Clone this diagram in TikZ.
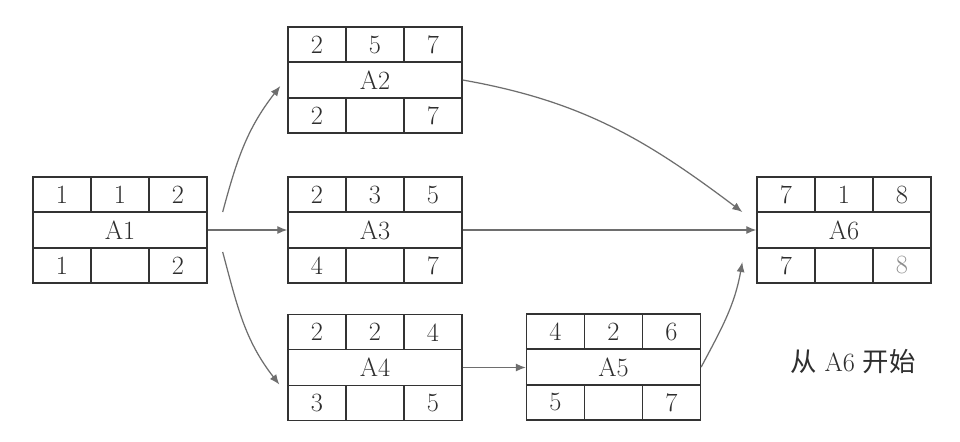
\documentclass[tikz,border=0pt]{standalone}
\usepackage{fontspec}
\newfontfamily\cjk{Noto Sans CJK SC}
\usetikzlibrary{positioning}
\usetikzlibrary{calc}
\usetikzlibrary{arrows.meta}
\definecolor{boxline}{HTML}{333333}
\definecolor{flowgray}{HTML}{6E6E6E}
\definecolor{numtext}{HTML}{2E2E2E}
\definecolor{fainttext}{HTML}{8C8C8C}

% one activity box: name, x, y, ES, D, EF, LS, LF
\newcommand{\task}[8]{%
  \node[taskbox] (#1) at (#2,#3) {#1};
  \draw[cellline] ($(#1.north west)!1/3!(#1.south west)$) -- ($(#1.north east)!1/3!(#1.south east)$);
  \draw[cellline] ($(#1.north west)!2/3!(#1.south west)$) -- ($(#1.north east)!2/3!(#1.south east)$);
  \draw[cellline] ({#2-29},{#3-53}) -- ({#2-29},{#3-17.67});
  \draw[cellline] ({#2+29},{#3-53}) -- ({#2+29},{#3-17.67});
  \draw[cellline] ({#2-29},{#3+17.67}) -- ({#2-29},{#3+53});
  \draw[cellline] ({#2+29},{#3+17.67}) -- ({#2+29},{#3+53});
  \node[celltext] (#1-es) at ({#2-58},{#3-35.3}) {#4};
  \node[celltext] (#1-d)  at (#2,{#3-35.3}) {#5};
  \node[celltext] (#1-ef) at ({#2+58},{#3-35.3}) {#6};
  \node[celltext] (#1-ls) at ({#2-58},{#3+35.3}) {#7};
  \node[celltext] (#1-lf) at ({#2+58},{#3+35.3}) {#8};
}

\begin{document}
\begin{tikzpicture}[
  x=0.02cm, y=-0.02cm,
  taskbox/.style={draw=boxline, line width=0.8pt, minimum width=3.48cm, minimum height=2.12cm,
    inner sep=0pt, text=numtext, font=\fontsize{15}{17}\selectfont},
  cellline/.style={boxline, line width=0.8pt},
  celltext/.style={inner sep=0pt, text=numtext, font=\fontsize{15}{17}\selectfont},
  flow/.style={-{Latex[length=2mm,width=1.6mm]}, flowgray, line width=0.7pt},
  note/.style={inner sep=0pt, text=numtext, font=\fontsize{15}{17}\selectfont}
]
\fill[white] (0,0) rectangle (960,441);
\useasboundingbox (0,0) rectangle (960,441);

% activities
\task{A1}{120}{230}{1}{1}{2}{1}{2}
\task{A2}{375}{80}{2}{5}{7}{2}{7}
\task{A3}{375}{230}{2}{3}{5}{4}{7}
\task{A4}{375}{367.5}{2}{2}{4}{3}{5}
\task{A5}{613.5}{367}{4}{2}{6}{5}{7}
\task{A6}{844}{230}{7}{1}{8}{7}{\textcolor{fainttext}{8}}

% free ends of the curved links
\coordinate (A1up) at ($(A1.east)+(15,-18)$);
\coordinate (A1dn) at ($(A1.east)+(15,22)$);
\coordinate (A2in) at ($(A2.west)+(-7,6)$);
\coordinate (A4in) at ($(A4.west)+(-8,17)$);
\coordinate (A6up) at ($(A6.west)+(-14,-18)$);
\coordinate (A6dn) at ($(A6.west)+(-14,32)$);

% links
\draw[flow] (A1.east) -- (A3.west);
\draw[flow] (A3.east) -- (A6.west);
\draw[flow] (A4.east) -- (A4.east -| A5.west);
\draw[flow] (A1up) to[out=75, in=232] (A2in);
\draw[flow] (A1dn) to[out=-75, in=128] (A4in);
\draw[flow] (A2.east) to[out=-10, in=143] (A6up);
\draw[flow] (A5.east) to[out=62, in=-100] (A6dn);

\node[note] (start) at (853,362) {{\cjk 从} A6 {\cjk 开始}};
\end{tikzpicture}
\end{document}
